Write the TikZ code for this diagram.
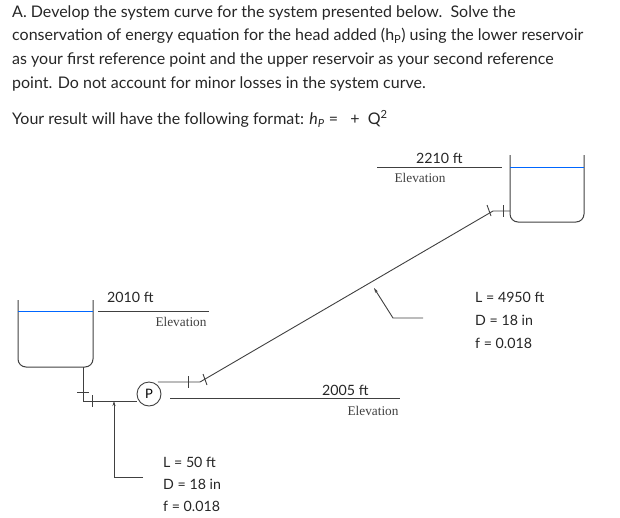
\documentclass[tikz,border=0pt]{standalone}
\usepackage{fontspec}
\usetikzlibrary{arrows.meta}
\setmainfont{Lato}
\newfontfamily\serifel{Liberation Serif}
\begin{document}
\begin{tikzpicture}[x=1pt,y=-1pt,
  pipe/.style={draw=black!75,line width=0.9pt},
  tank/.style={draw=black!75,line width=1pt,rounded corners=8pt},
  water/.style={draw=blue!60!cyan,line width=1pt},
  hd/.style={anchor=west,font=\fontsize{16}{18}\selectfont,inner sep=0pt,text=black!85},
  lb/.style={anchor=west,font=\fontsize{14.2}{16}\selectfont,inner sep=0pt,text=black!85},
  el/.style={font=\serifel\fontsize{13.3}{15}\selectfont,inner sep=0pt,text=black!75}]
\useasboundingbox (0,0) rectangle (620,517);
\node[hd] (h1) at (12,13) {A. Develop the system curve for the system presented below.\ \ Solve the};
\node[hd] (h2) at (12,36) {conservation of energy equation for the head added (h\textsubscript{P}) using the lower reservoir};
\node[hd] (h3) at (12,60) {as your first reference point and the upper reservoir as your second reference};
\node[hd] (h4) at (12,84) {point. Do not account for minor losses in the system curve.};
\node[hd] (h5) at (12,119) {Your result will have the following format: \textit{h\textsubscript{P}} = \ \ + \ Q\textsuperscript{2}};
% left tank
\draw[tank] (18,300) -- (18,367) -- (93,367) -- (93,300);
\draw[water] (18,311) -- (93,311);
\draw[pipe] (98,311) -- (209,311);
\node[lb] (e1) at (107,297) {2010 ft};
\node[el] (e1b) at (181,322) {Elevation};
% right tank
\draw[tank] (510,155) -- (510,222) -- (584,222) -- (584,155);
\draw[water] (510,167) -- (584,167);
\draw[pipe] (377,167) -- (502,167);
\node[lb] (e2) at (416,158) {2210 ft};
\node[el] (e2b) at (420,178) {Elevation};
% pump
\node[circle,draw=black!75,line width=0.9pt,minimum size=24pt,inner sep=0pt,font=\fontsize{13}{15}\selectfont] (P) at (149,394) {P};
\coordinate (o1) at (83,367);
\coordinate (o2) at (83,401);
\draw[pipe] (o1) -- (o2) -- (P.west|-0,401);
\draw[pipe] (77,392) -- (89,392);
\draw[pipe] (92,395) -- (92,407);
\coordinate (b1) at (200,382);
\coordinate (b2) at (493,211);
\draw[pipe] (P.north east|-0,382) -- (b1) -- (b2) -- (510,211);
\draw[pipe] (188,376) -- (188,388);
\draw[pipe] (203,374) -- (207,385);
\draw[pipe] (487,205) -- (491,216);
\draw[pipe] (503,205) -- (503,217);
% 2005 line
\draw[pipe] (170,398) -- (400,398);
\node[lb] (e3) at (322,390) {2005 ft};
\node[el] (e3b) at (373,411) {Elevation};
% leaders
\draw[pipe,-{Stealth[length=5pt,width=3pt]}] (143,477) -- (114,477) -- (114,401);
\draw[pipe,-{Stealth[length=5pt,width=3pt]}] (423,318) -- (393,318) -- (374,288);
% data
\node[lb] (a1) at (475,297) {L = 4950 ft};
\node[lb] (a2) at (475,320) {D = 18 in};
\node[lb] (a3) at (475,343) {f = 0.018};
\node[lb] (c1) at (163,462) {L = 50 ft};
\node[lb] (c2) at (163,484) {D = 18 in};
\node[lb] (c3) at (163,506) {f = 0.018};
\end{tikzpicture}
\end{document}
